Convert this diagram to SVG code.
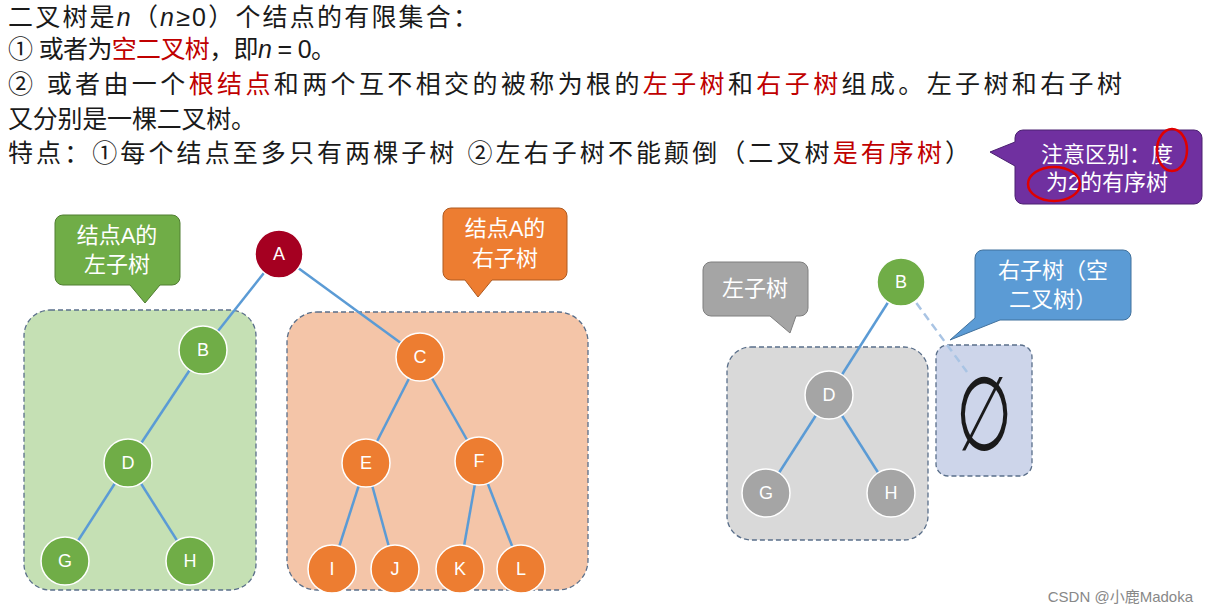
<svg xmlns="http://www.w3.org/2000/svg" width="1207" height="614" viewBox="0 0 1207 614">
<style>
.t{font-family:"Liberation Sans","Noto Sans CJK SC",sans-serif;font-size:25px;fill:#1a1a1a}
.r{fill:#c00000}
.n{font-family:"Liberation Sans","Noto Sans CJK SC",sans-serif;font-size:18px;fill:#fff;text-anchor:middle}
.c{font-family:"Liberation Sans","Noto Sans CJK SC",sans-serif;font-size:22px;fill:#fff;text-anchor:middle}
.e{stroke:#5b9bd5;stroke-width:2.5}
.g{fill:#70ad47;stroke:#fff;stroke-width:1.5}
.o{fill:#ed7d31;stroke:#fff;stroke-width:1.5}
.y{fill:#a5a5a5;stroke:#fff;stroke-width:1.5}
.box{stroke:#5a6f8a;stroke-width:1.3;stroke-dasharray:5 3}
</style>
<rect width="1207" height="614" fill="#fff"/>
<g id="text">
<text class="t" x="8" y="26" textLength="470">二叉树是<tspan font-style="italic">n</tspan>（<tspan font-style="italic">n</tspan>≥0）个结点的有限集合：</text>
<text class="t" x="8" y="58" textLength="328">① 或者为<tspan class="r">空二叉树</tspan>，即<tspan font-style="italic">n</tspan> = 0。</text>
<text class="t" x="8" y="93" textLength="1114">② 或者由一个<tspan class="r">根结点</tspan>和两个互不相交的被称为根的<tspan class="r">左子树</tspan>和<tspan class="r">右子树</tspan>组成。左子树和右子树</text>
<text class="t" x="8" y="128" textLength="248">又分别是一棵二叉树。</text>
<text class="t" x="8" y="162" textLength="962">特点：①每个结点至多只有两棵子树 ②左右子树不能颠倒（二叉树<tspan class="r">是有序树</tspan>）</text>
</g>
<g id="note">
<path d="M1027,130 H1194 a8,8 0 0 1 8,8 V196 a8,8 0 0 1 -8,8 H1023 a8,8 0 0 1 -8,-8 V166 L990,152 L1015,142 V138 a8,8 0 0 1 8,-8 Z" fill="#7030a0" stroke="#4a2070"/>
<text class="c" x="1107" y="162" font-size="24">注意区别：度</text>
<text class="c" x="1107" y="190" font-size="24">为2的有序树</text>
<ellipse cx="1172" cy="150" rx="15" ry="21" fill="none" stroke="#e00000" stroke-width="2.5"/>
<ellipse cx="1054" cy="184" rx="26" ry="17" fill="none" stroke="#e00000" stroke-width="2.5"/>
</g>
<g id="boxes">
<rect x="24" y="310" width="232" height="280" rx="26" fill="#c5e0b4" class="box"/>
<rect x="287" y="312" width="301" height="278" rx="30" fill="#f4c5a8" class="box"/>
<rect x="727" y="347" width="201" height="193" rx="24" fill="#d9d9d9" class="box"/>
<rect x="936" y="345" width="96" height="131" rx="12" fill="#cdd5ea" class="box"/>
</g>
<g id="connectors">
<line class="e" x1="279" y1="254" x2="203" y2="350"/>
<line class="e" x1="279" y1="254" x2="420" y2="357"/>
<line class="e" x1="203" y1="350" x2="128" y2="463"/>
<line class="e" x1="128" y1="463" x2="65" y2="561"/>
<line class="e" x1="128" y1="463" x2="190" y2="561"/>
<line class="e" x1="420" y1="357" x2="366" y2="463"/>
<line class="e" x1="420" y1="357" x2="479" y2="461"/>
<line class="e" x1="366" y1="463" x2="332" y2="569"/>
<line class="e" x1="366" y1="463" x2="395" y2="569"/>
<line class="e" x1="479" y1="461" x2="460" y2="569"/>
<line class="e" x1="479" y1="461" x2="521" y2="569"/>
<line class="e" x1="901" y1="282" x2="829" y2="395"/>
<line class="e" x1="829" y1="395" x2="766" y2="493"/>
<line class="e" x1="829" y1="395" x2="891" y2="493"/>
<line x1="901" y1="282" x2="967" y2="372" stroke="#a9c4e4" stroke-width="2.5" stroke-dasharray="8 5"/>
</g>
<g id="nA"><circle cx="279" cy="254" r="24" fill="#a50021" stroke="#fff" stroke-width="1.5"/><text class="n" x="279" y="260">A</text></g>
<g id="nB"><circle class="g" cx="203" cy="350" r="24"/><text class="n" x="203" y="356">B</text></g>
<g id="nD"><circle class="g" cx="128" cy="463" r="24"/><text class="n" x="128" y="469">D</text></g>
<g id="nG"><circle class="g" cx="65" cy="561" r="24"/><text class="n" x="65" y="567">G</text></g>
<g id="nH"><circle class="g" cx="190" cy="561" r="24"/><text class="n" x="190" y="567">H</text></g>
<g id="nC"><circle class="o" cx="420" cy="357" r="24"/><text class="n" x="420" y="363">C</text></g>
<g id="nE"><circle class="o" cx="366" cy="463" r="24"/><text class="n" x="366" y="469">E</text></g>
<g id="nF"><circle class="o" cx="479" cy="461" r="24"/><text class="n" x="479" y="467">F</text></g>
<g id="nI"><circle class="o" cx="332" cy="569" r="24"/><text class="n" x="332" y="575">I</text></g>
<g id="nJ"><circle class="o" cx="395" cy="569" r="24"/><text class="n" x="395" y="575">J</text></g>
<g id="nK"><circle class="o" cx="460" cy="569" r="24"/><text class="n" x="460" y="575">K</text></g>
<g id="nL"><circle class="o" cx="521" cy="569" r="24"/><text class="n" x="521" y="575">L</text></g>
<g id="nB2"><circle class="g" cx="901" cy="282" r="24"/><text class="n" x="901" y="288">B</text></g>
<g id="nD2"><circle class="y" cx="829" cy="395" r="24"/><text class="n" x="829" y="401">D</text></g>
<g id="nG2"><circle class="y" cx="766" cy="493" r="24"/><text class="n" x="766" y="499">G</text></g>
<g id="nH2"><circle class="y" cx="891" cy="493" r="24"/><text class="n" x="891" y="499">H</text></g>
<g id="empty"><text x="0" y="0" transform="translate(984,450) scale(0.75,1.2)" font-family="DejaVu Sans,sans-serif" font-size="86" text-anchor="middle" fill="#1a1a1a">∅</text></g>
<g id="callLeft">
<path d="M63,215 H172 a8,8 0 0 1 8,8 V277 a8,8 0 0 1 -8,8 H160 L145,303 L130,285 H63 a8,8 0 0 1 -8,-8 V223 a8,8 0 0 1 8,-8 Z" fill="#70ad47" stroke="#507e32"/>
<text class="c" x="117" y="243">结点A的</text><text class="c" x="117" y="272">左子树</text>
</g>
<g id="callRight">
<path d="M451,208 H559 a8,8 0 0 1 8,8 V272 a8,8 0 0 1 -8,8 H492 L478,297 L465,280 H451 a8,8 0 0 1 -8,-8 V216 a8,8 0 0 1 8,-8 Z" fill="#ed7d31" stroke="#ae5a21"/>
<text class="c" x="505" y="236">结点A的</text><text class="c" x="505" y="266">右子树</text>
</g>
<g id="callGray">
<path d="M711,262 H800 a8,8 0 0 1 8,8 V308 a8,8 0 0 1 -8,8 H796 L790,333 L770,316 H711 a8,8 0 0 1 -8,-8 V270 a8,8 0 0 1 8,-8 Z" fill="#a5a5a5" stroke="#7f7f7f"/>
<text class="c" x="755" y="296">左子树</text>
</g>
<g id="callBlue">
<path d="M983,250 H1123 a8,8 0 0 1 8,8 V312 a8,8 0 0 1 -8,8 H1000 L950,340 L975,318 V258 a8,8 0 0 1 8,-8 Z" fill="#5b9bd5" stroke="#41719c"/>
<text class="c" x="1053" y="278">右子树（空</text><text class="c" x="1053" y="307">二叉树）</text>
</g>
<text x="1193" y="602" font-family="Liberation Sans,Noto Sans CJK SC,sans-serif" font-size="15" fill="#888" text-anchor="end">CSDN @小鹿Madoka</text>
</svg>
